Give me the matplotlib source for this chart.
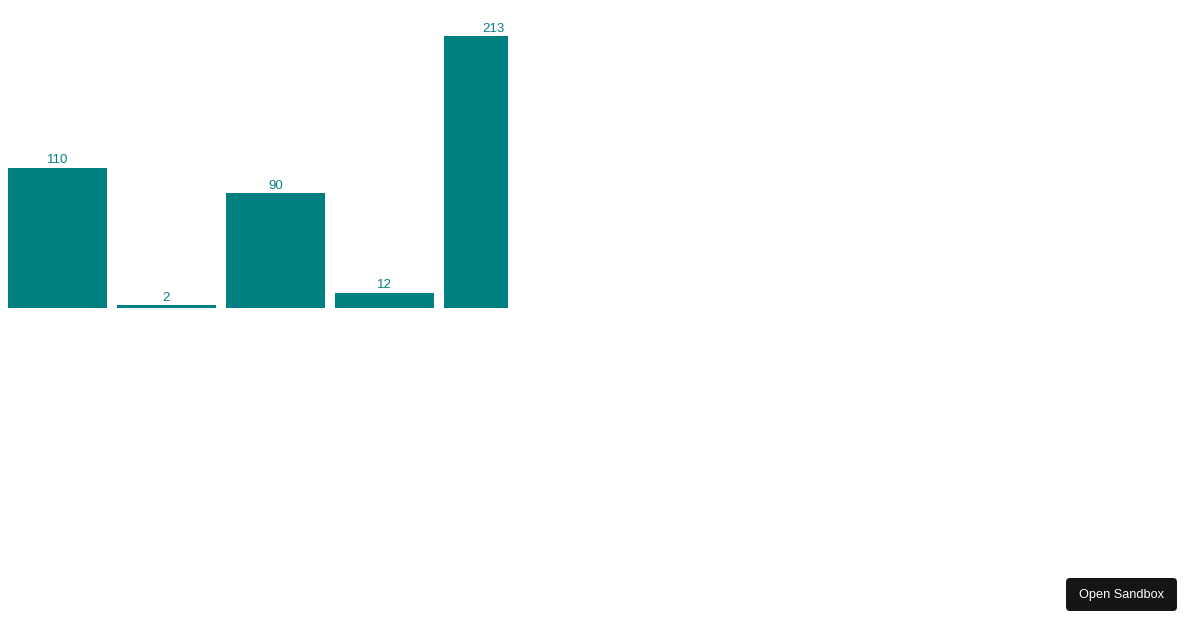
import matplotlib
matplotlib.use("Agg")
import matplotlib.pyplot as plt
from matplotlib.patches import FancyBboxPatch

plt.rcParams['font.family'] = ['Liberation Sans', 'DejaVu Sans']

# data
categories = ['A', 'B', 'C', 'D', 'E']
values = [110, 2, 90, 12, 213]

bar_color = '#008080'
label_color = '#0b7d85'

W, H = 1200, 630
fig = plt.figure(figsize=(W / 100, H / 100), dpi=100)
fig.patch.set_facecolor('white')

# chart area: 508px wide, baseline at y=308 from top
ax = fig.add_axes([0, (H - 308) / H, 508 / W, 308 / H])
step = 109.0
ax.set_xlim(-57.5 / step, (508 - 57.5) / step)
ax.set_ylim(0, 308 / 1.277)
x = range(len(values))
bars = ax.bar(x, values, width=99 / step, color=bar_color)
for xi, v in zip(x, values):
    ax.annotate(str(v), (xi, v), xytext=(0, 1), textcoords='offset points',
                ha='center', va='bottom', fontsize=9.5, color=label_color,
                annotation_clip=False)
ax.axis('off')

# "Open Sandbox" button overlay in pixel coordinates
ov = fig.add_axes([0, 0, 1, 1], zorder=5)
ov.set_xlim(0, W)
ov.set_ylim(H, 0)
ov.axis('off')
ov.patch.set_alpha(0)
btn = FancyBboxPatch((1066 + 4, 578 + 4), 111 - 8, 33 - 8,
                     boxstyle='round,pad=4', facecolor='#151515',
                     edgecolor='none')
ov.add_patch(btn)
ov.text(1121.5, 595, 'Open Sandbox', color='white', fontsize=9.2,
        ha='center', va='center')

fig.savefig('out.png', dpi=100, facecolor='white')
